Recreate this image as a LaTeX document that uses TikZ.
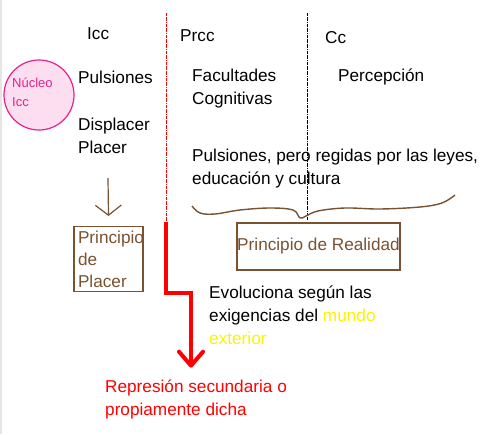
\documentclass[tikz,border=0pt]{standalone}
\usepackage{fontspec}
\setmainfont{Liberation Sans}
\usepackage{tikz}
\usetikzlibrary{positioning,arrows.meta,shapes}
\definecolor{marron}{RGB}{122,82,48}
\definecolor{rosa}{RGB}{232,32,140}
\definecolor{rosaclaro}{RGB}{252,222,240}

\begin{document}
\begin{tikzpicture}
 		[x=1pt, y=-1pt,
 		font=\fontsize{17.2}{23}\selectfont,
 		every node/.style={inner sep=0pt, align=left},
 		texto/.style={anchor=west},
 		caja/.style={draw=marron, line width=1.5pt, text=marron,
 			inner xsep=4pt, inner ysep=4pt},
 		flechamarron/.style={draw=marron, line width=1.2pt,
 			-{Straight Barb[length=10pt,width=26pt]}},
 		flecharoja/.style={draw=red, line width=4pt,
 			-{Straight Barb[length=14pt,width=24pt,round]}},
 		divisor/.style={densely dashdotted, line width=0.8pt},
 		]
 		\useasboundingbox (0,0) rectangle (495,434);
 		\fill[black!10] (0,0) rectangle (2,434);
 		% Icc
 		\node[texto] (icc) at (87,34) {Icc};
 		\node[texto] (pulsiones) at (78,77) {Pulsiones};
 		\node[texto] (displacer) at (78,135.5) {Displacer\\Placer};
 		\node[circle, draw=rosa, fill=rosaclaro, line width=1.2pt,
 			minimum size=70pt] (nucleo) at (39,95) {};
 		\node[texto, text=rosa, font=\fontsize{13}{19}\selectfont]
 			(nucleotxt) at (12,92.5) {Núcleo\\Icc};
 		% Prcc
 		\node[texto] (prcc) at (180,36) {Prcc};
 		\node[texto] (facultades) at (192,88.5) {Facultades\\Cognitivas};
 		\node[texto] (leyes) at (192,168.5) {Pulsiones, pero regidas por las leyes,\\educación y cultura};
 		% Cc
 		\node[texto] (cc) at (325,38) {Cc};
 		\node[texto] (percepcion) at (338,77) {Percepción};
 		
 		\node[caja, text width=61pt, font=\fontsize{17.2}{22}\selectfont]
 			(placer) at (108.5,259) {Principio\\de\\Placer};
 		\node[caja, inner xsep=0pt, minimum width=163pt, minimum height=47pt, align=center]
 			(realidad) at (318.5,246.5) {Principio de Realidad};
 		\node[texto] (evoluciona) at (209,315)
 			{Evoluciona según las\\exigencias del \textcolor{yellow}{mundo}\\\textcolor{yellow}{exterior}};
 		\node[texto, text=red] (represion) at (105,399.5)
 			{Represión secundaria o\\propiamente dicha};
 		
 		\coordinate (rojoarriba) at (166,13);
 		\coordinate (rojomedio) at (166,222);
 		\coordinate (codo) at (191,293);
 		\coordinate (negroarriba) at (307,13);
 		\coordinate (negroabajo) at (307,220);
 		\coordinate (flechaarriba) at (108,178);
 		
 		\draw[divisor, red] (rojoarriba) -- (rojomedio);
 		\draw[divisor] (negroarriba) -- (negroabajo);
 		\draw[flecharoja] (rojomedio) |- (codo) -- ([yshift=12pt]codo |- represion.north);
 		\draw[flechamarron] (flechaarriba) -- ([yshift=10pt]placer.north);
 		% llave
 		\draw[marron, line width=1.4pt] plot[smooth, tension=0.6] coordinates
 			{(192,206) (200,213) (215,214) (240,210) (270,208) (293,210)
 			(300,218) (306,216) (318,211) (345,208) (380,209) (420,207)
 			(442,203) (455,195)};
\end{tikzpicture}
\end{document}
